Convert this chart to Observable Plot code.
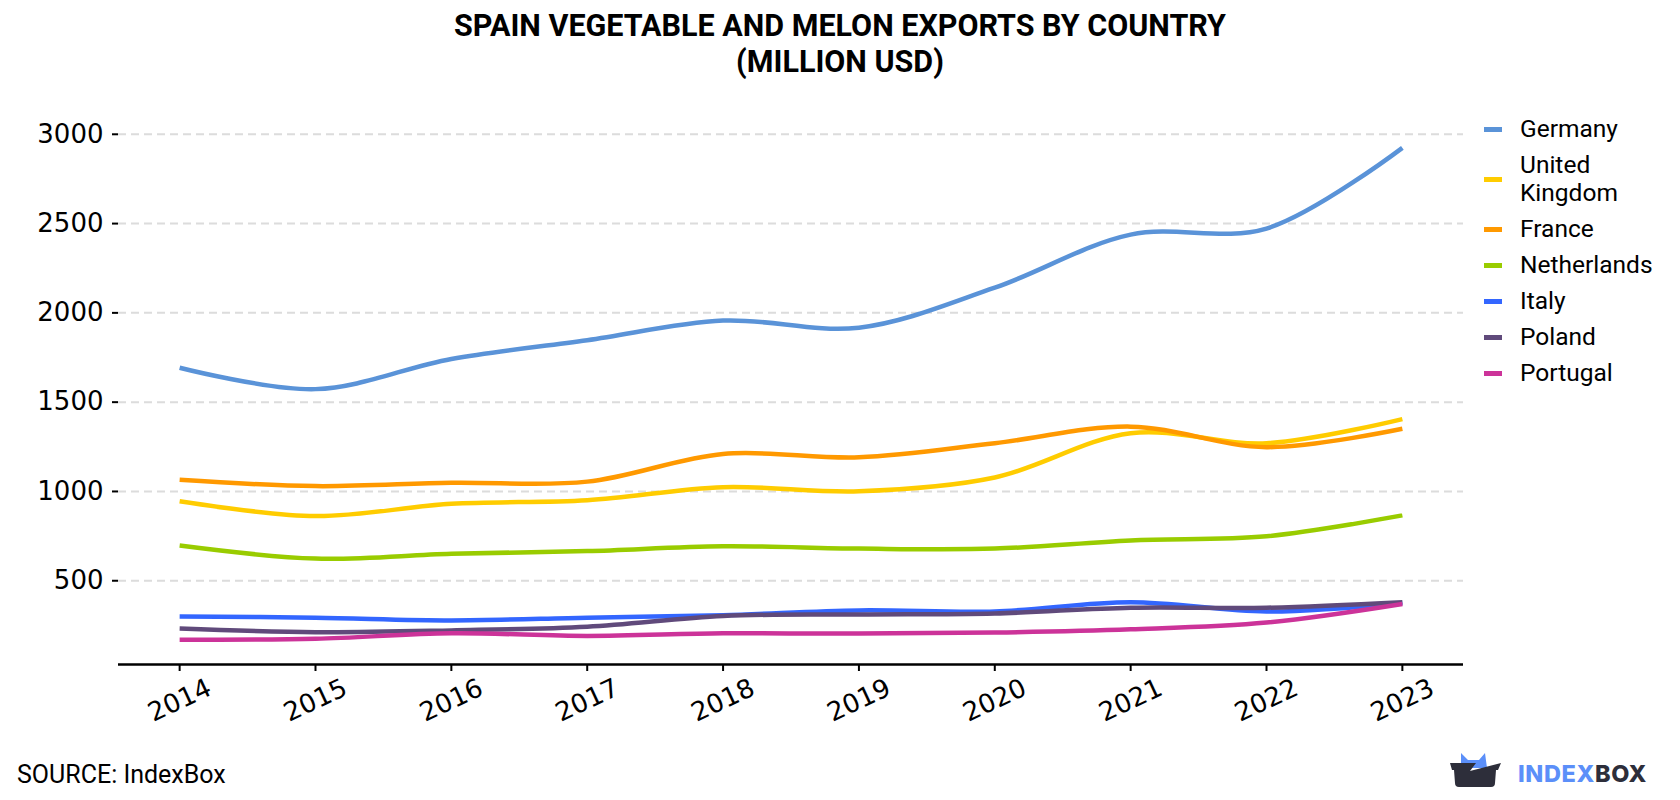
<!DOCTYPE html>
<html>
<head>
<meta charset="utf-8">
<script src="https://cdn.jsdelivr.net/npm/d3@7"></script>
<script src="https://cdn.jsdelivr.net/npm/@observablehq/plot@0.6"></script>
<style>
  body { margin: 0; background: #fff; }
  #wrap { position: relative; width: 1680px; height: 800px; overflow: hidden; font-family: Roboto, "Noto Sans", sans-serif; color: #000; }
  #title { position: absolute; left: 0; top: 0; width: 1680px; height: 95px; box-sizing: border-box; padding-top: 8px; text-align: center; font-weight: 700; font-size: 30.5px; line-height: 36px; }
  #chart { position: absolute; left: 0; top: 95px; }
  #legend { position: absolute; left: 1484px; top: 115px; display: flex; flex-direction: column; gap: 8px; }
  .item { display: flex; align-items: center; }
  .sw { width: 18px; height: 5px; margin-right: 18px; flex: none; }
  .lab { font-size: 24.5px; line-height: 28px; width: 150px; }
  #source { position: absolute; left: 17px; top: 761px; font-size: 25px; line-height: 28px; }
  #logo { position: absolute; left: 1446px; top: 750px; }
</style>
</head>
<body>
<div id="wrap">
  <div id="title">SPAIN VEGETABLE AND MELON EXPORTS BY COUNTRY<br>(MILLION USD)</div>
  <div id="chart"></div>
  <div id="legend"></div>
  <div id="source">SOURCE: IndexBox</div>
  <svg id="logo" width="220" height="44" viewBox="0 0 220 44">
    <path d="M15,18 L15,3 L22,10 L33,10 L39,3 L41,18 Z" fill="#5b8ff9"/>
    <path d="M4,13 L30,13 L24,21 L55,13 L52,20 L50,20 L49,33 Q49,37 45,37 L13,37 Q9,37 9,33 L8,20 L6,20 Z" fill="#2d2e3a"/>
    <text x="72" y="32" font-family="Inter, Roboto, sans-serif" font-weight="800" font-size="23.5" letter-spacing="0.6"><tspan fill="#5b8ff9">INDEX</tspan><tspan fill="#2d2e3a">BOX</tspan></text>
  </svg>
</div>
<script>
const years = [2014, 2015, 2016, 2017, 2018, 2019, 2020, 2021, 2022, 2023];
const countries = ["Germany", "United Kingdom", "France", "Netherlands", "Italy", "Poland", "Portugal"];
const colors = ["#5a93d8", "#ffcc00", "#ff9900", "#99cc00", "#3366ff", "#604a7b", "#cc3399"];

const germany       = [1693, 1573, 1742, 1847, 1957, 1917, 2141, 2438, 2472, 2924];
const unitedKingdom = [945, 862, 931, 951, 1024, 1001, 1078, 1326, 1270, 1405];
const france        = [1065, 1030, 1049, 1055, 1210, 1191, 1270, 1363, 1248, 1351];
const netherlands   = [697, 624, 651, 666, 693, 680, 680, 726, 749, 866];
const italy         = [300, 293, 278, 293, 307, 334, 328, 380, 328, 376];
const poland        = [233, 212, 222, 243, 303, 311, 317, 349, 349, 380];
const portugal      = [170, 175, 206, 191, 206, 204, 210, 228, 266, 370];

const yTicks = [500, 1000, 1500, 2000, 2500, 3000];
const yDomain = [31, 3066];
const xDomain = [2013.55, 2023.45];

const seriesValues = [germany, unitedKingdom, france, netherlands, italy, poland, portugal];
const rows = countries.flatMap((c, i) => years.map((yr, j) => ({country: c, year: yr, value: seriesValues[i][j]})));

const chart = Plot.plot({
  width: 1680,
  height: 640,
  marginLeft: 118,
  marginRight: 217,
  marginTop: 27,
  marginBottom: 71,
  x: {domain: xDomain},
  y: {domain: yDomain},
  color: {domain: countries, range: colors},
  style: {fontFamily: "'DejaVu Sans', sans-serif", fontSize: "26px", color: "#000", background: "#fff", overflow: "visible"},
  marks: [
    Plot.ruleY(yTicks, {stroke: "#dcdcdc", strokeWidth: 2, strokeDasharray: "8,5"}),
    Plot.axisY(yTicks, {tickSize: 6, tickPadding: 9, strokeWidth: 2, fontSize: 26, label: null, tickFormat: d => String(d)}),
    Plot.ruleY([yDomain[0]], {stroke: "#000", strokeWidth: 2.5}),
    Plot.axisX(years, {tickSize: 7, strokeWidth: 2, label: null, tickFormat: () => ""}),
    Plot.lineY(rows, {x: "year", y: "value", z: "country", stroke: "country", strokeWidth: 4.5, curve: "catmull-rom", strokeLinecap: "butt"}),
    Plot.text(years, {x: d => d, frameAnchor: "bottom", dy: 36, rotate: -25, text: d => String(d), fontSize: 26, textAnchor: "middle", lineAnchor: "middle"})
  ]
});
document.getElementById("chart").appendChild(chart);

const legend = document.getElementById("legend");
countries.forEach((c, i) => {
  const item = document.createElement("div");
  item.className = "item";
  const sw = document.createElement("div");
  sw.className = "sw";
  sw.style.background = colors[i];
  const lab = document.createElement("div");
  lab.className = "lab";
  lab.textContent = c;
  item.appendChild(sw);
  item.appendChild(lab);
  legend.appendChild(item);
});
</script>
</body>
</html>
